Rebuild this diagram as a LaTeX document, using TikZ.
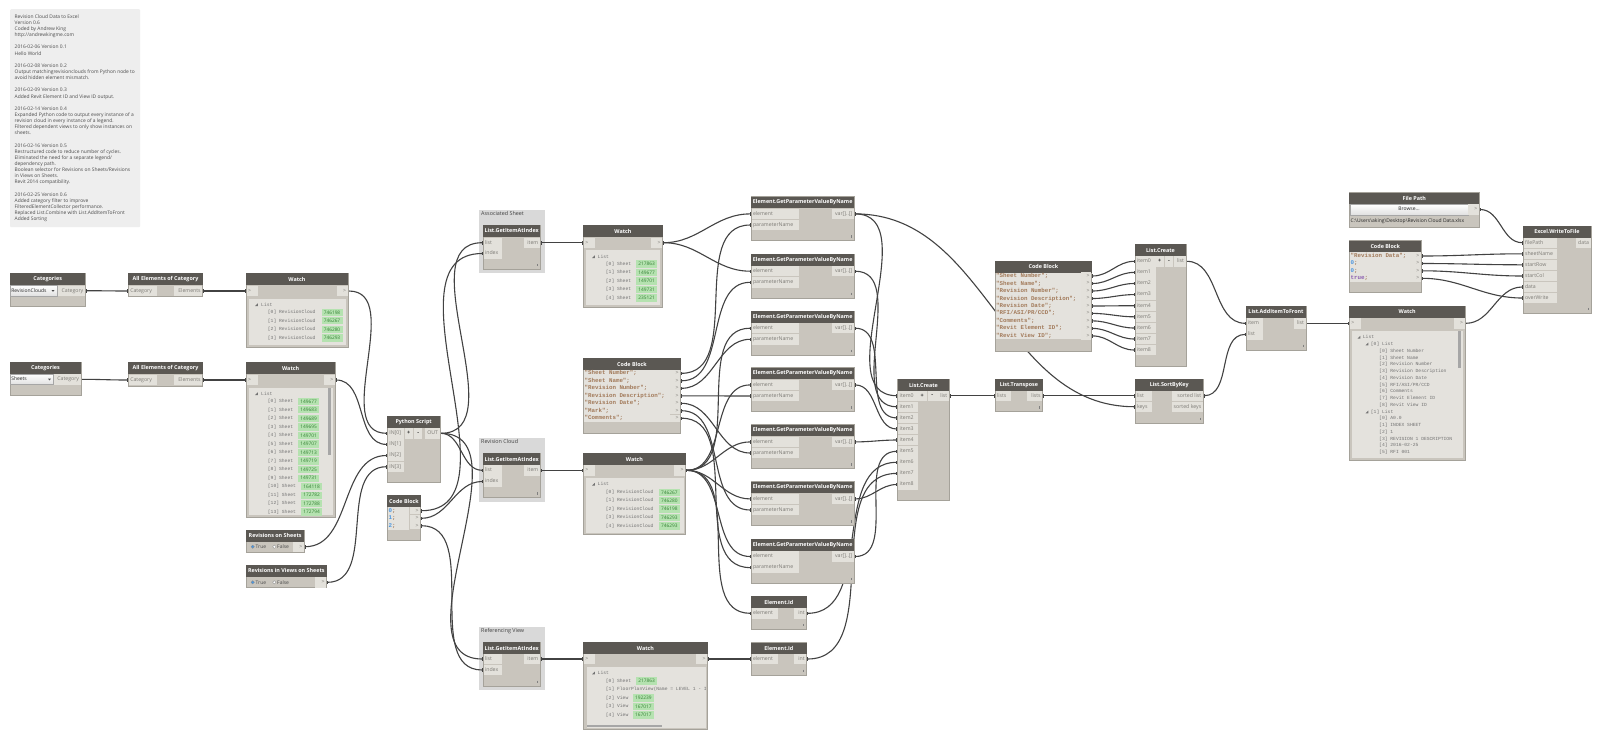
\documentclass[tikz,border=0pt]{standalone}
\usepackage{fontspec}
\setmainfont{Open Sans}
\setmonofont{Liberation Mono}
\usetikzlibrary{arrows.meta}
\usetikzlibrary{backgrounds}

\definecolor{titlegray}{HTML}{5B5853}
\definecolor{bodygray}{HTML}{C9C5BD}
\definecolor{edgegray}{HTML}{A5A29A}
\definecolor{portlight}{HTML}{E3E1DB}
\definecolor{panelgray}{HTML}{E4E2DD}
\definecolor{groupgray}{HTML}{D9D9D9}
\definecolor{notegray}{HTML}{EEEEEE}
\definecolor{valgreen}{HTML}{B5E2B0}
\definecolor{wiregray}{HTML}{424242}
\definecolor{porttext}{HTML}{7D7B76}
\definecolor{codebrown}{HTML}{A27A5A}
\definecolor{codeblue}{HTML}{4A96E0}
\definecolor{codepurple}{HTML}{8C5FB0}

\pgfdeclarelayer{wires}
\pgfsetlayers{background,wires,main}

\tikzset{
	nodebody/.style={fill=bodygray, draw=edgegray, line width=0.7pt, inner sep=0pt, outer sep=0pt},
	nodetitle/.style={fill=titlegray, text=white, inner sep=0pt, outer sep=0pt, minimum height=11.5pt, font=\fontsize{5.4}{6}\selectfont\bfseries},
	inport/.style={anchor=west, fill=portlight, text=porttext, text width=#1pt, align=flush left, inner xsep=1.5pt, inner ysep=0pt, outer sep=0pt, minimum height=10.4pt, text height=3.7pt, text depth=1.1pt, font=\fontsize{5.2}{6}\selectfont},
	outport/.style={inport=#1, anchor=east, align=flush right},
	button/.style={fill=portlight, text=black!80, inner sep=0pt, outer sep=0pt, minimum width=8.5pt, minimum height=10.4pt, font=\fontsize{5.5}{6}\selectfont\bfseries},
	panel/.style={fill=panelgray, inner sep=0pt, outer sep=0pt},
	group/.style={fill=groupgray, inner sep=0pt, outer sep=0pt},
	grouplabel/.style={anchor=west, inner sep=0pt, text=black!75, font=\fontsize{5.4}{6}\selectfont},
	rowtext/.style={anchor=west, inner sep=0pt, text=black!55, font=\fontsize{4.67}{5}\selectfont\ttfamily},
	valbox/.style={anchor=east, fill=valgreen, text=black!50!green!60!gray, inner sep=0pt, minimum width=21pt, minimum height=7.2pt, font=\fontsize{4.8}{5}\selectfont},
	codetext/.style={anchor=west, inner sep=0pt, text=codebrown, font=\fontsize{5.8}{6}\selectfont\ttfamily\bfseries},
	dropdown/.style={anchor=west, top color=white, bottom color=black!12, draw=black!35, line width=0.3pt, text=black!85, text width=#1pt, align=flush left, inner xsep=1pt, inner ysep=0pt, outer sep=0pt, minimum height=10.6pt, text height=3.7pt, text depth=1.1pt, font=\fontsize{5}{6}\selectfont},
	radio/.style={circle, draw=black!45, line width=0.3pt, fill=white, inner sep=0pt, minimum size=3.4pt},
	radioon/.style={radio, fill=codeblue},
	radiotext/.style={anchor=west, inner sep=0pt, text=black!70, font=\fontsize{5}{6}\selectfont},
	lacing/.style={black!50, line width=0.5pt},
	treemark/.style={fill=black!55},
	wire/.style={draw=wiregray, line width=1.1pt, {Square[length=1.8pt,width=3.4pt]}-{Square[length=1.8pt,width=3.4pt]}, every to/.style={out=0,in=180}},
}

\newcommand{\blocknode}[6]{\node (#1) at (#2,#3) [anchor=north west, minimum width={(#4-#2)*1pt}, minimum height={(#5-#3)*1pt}, #6] {};}
\newcommand{\dynnode}[6]{\blocknode{#1}{#2}{#3}{#4}{#5}{nodebody}\node (#1-title) at (#2,#3) [nodetitle, anchor=north west, minimum width={(#4-#2)*1pt}] {#6};}
\newcommand{\lacemark}[1]{\draw[lacing] ([shift={(-3,-5.5)}]#1.south east) -- +(0,2.5);}
\newcommand{\treetip}[2]{\fill[treemark] (#1,#2+1.4) -- ++(2.8,0) -- ++(0,-2.8) -- cycle;}

\begin{document}
\begin{tikzpicture}[x=1pt, y=-1pt]

	\useasboundingbox (0,0) rectangle (1600,740);
	\begin{pgfonlayer}{background}
		\fill[white] (0,0) rectangle (1600,740);
	\end{pgfonlayer}

	% Notes
	\node (notes) at (10,9) [anchor=north west, fill=notegray, rounded corners=1pt, inner xsep=4.5pt, inner ysep=0pt, minimum width=130pt, minimum height=218pt, text width=121pt, align=flush left, text=black!70, font=\fontsize{4.9}{6.13}\selectfont] {Revision Cloud Data to Excel\\
		Version 0.6\\
		Coded by Andrew King\\
		http://andrewkingme.com\\[6.13pt]
		2016-02-06 Version 0.1\\
		Hello World\\[6.13pt]
		2016-02-08 Version 0.2\\
		Output matchingrevisionclouds from Python node to\\
		avoid hidden element mismatch.\\[6.13pt]
		2016-02-09 Version 0.3\\
		Added Revit Element ID and View ID output.\\[6.13pt]
		2016-02-14 Version 0.4\\
		Expanded Python code to output every instance of a\\
		revision cloud in every instance of a legend.\\
		Filtered dependent views to only show instances on\\
		sheets.\\[6.13pt]
		2016-02-16 Version 0.5\\
		Restructured code to reduce number of cycles.\\
		Eliminated the need for a separate legend/\\
		dependency path.\\
		Boolean selector for Revisions on Sheets/Revisions\\
		in Views on Sheets.\\
		Revit 2014 compatibility.\\[6.13pt]
		2016-02-25 Version 0.6\\
		Added category filter to improve\\
		FilteredElementCollector performance.\\
		Replaced List.Combine with List.AddItemToFront\\
		Added Sorting};

	% Categories
	\dynnode{catclouds}{10}{273.3}{85.3}{306.7}{Categories}
	\node (catclouds-pick) at (10.3,290.7) [dropdown=44.5] {RevisionClouds};
	\fill[black!70] (51.5,290) -- ++(3,0) -- ++(-1.5,1.8) -- cycle;
	\node (catclouds-out) at (84.8,290.7) [outport=24] {Category};
	\dynnode{catsheets}{10}{362.3}{81}{395.7}{Categories}
	\node (catsheets-pick) at (10.3,379.3) [dropdown=41] {Sheets};
	\fill[black!70] (48,378.6) -- ++(3,0) -- ++(-1.5,1.8) -- cycle;
	\node (catsheets-out) at (80.5,379.3) [outport=24] {Category};

	% All Elements of Category
	\dynnode{allclouds}{128.3}{273.3}{202.7}{296.5}{All Elements of Category}
	\node (allclouds-in) at (128.8,291) [inport=25] {Category};
	\node (allclouds-out) at (202.2,291) [outport=25] {Elements};
	\dynnode{allsheets}{128.3}{362.3}{202.7}{386}{All Elements of Category}
	\node (allsheets-in) at (128.8,380) [inport=25] {Category};
	\node (allsheets-out) at (202.2,380) [outport=25] {Elements};

	% Watch of the revision clouds
	\dynnode{watchclouds}{246}{273.3}{348}{347.3}{Watch}
	\node (watchclouds-in) at (246.5,291) [inport=8] {>};
	\node (watchclouds-out) at (347.5,291) [outport=8] {>};
	\blocknode{watchclouds-panel}{249.3}{299.3}{346}{345}{panel}
	\treetip{255}{304.7}
	\node (watchclouds-list) at (261,304.7) [rowtext] {List};
	\foreach \i/\yy/\val in {0/312.3/746198,1/320.8/746267,2/329.3/746280,3/338/746293} {
		\node (watchclouds-row\i) at (267.7,\yy) [rowtext] {[\i] RevisionCloud};
		\node (watchclouds-val\i) at (342.7,\yy) [valbox] {\val};
	}

	% Watch of the sheets
	\dynnode{watchsheets}{246}{362.3}{335.3}{517.3}{Watch}
	\node (watchsheets-in) at (246.5,380) [inport=8] {>};
	\node (watchsheets-out) at (334.8,380) [outport=8] {>};
	\blocknode{watchsheets-panel}{249.3}{388}{333}{515}{panel}
	\blocknode{watchsheets-bar}{328}{388}{330.7}{455}{fill=black!35, inner sep=0pt, outer sep=0pt}
	\treetip{255}{393.7}
	\node (watchsheets-list) at (261,393.7) [rowtext] {List};
	\foreach \i/\yy/\val in {0/401.3/149677,1/409.8/149683,2/418.4/149689,3/426.9/149695,4/435.4/149701,5/444/149707,6/452.5/149713,7/461/149719,8/469.5/149725,9/478.1/149731} {
		\node (watchsheets-row\i) at (267.7,\yy) [rowtext] {[\i] Sheet};
		\node (watchsheets-val\i) at (319.3,\yy) [valbox] {\val};
	}
	\foreach \i/\yy/\val in {10/486.6/164118,11/495.2/172782,12/503.7/172788,13/512/172794} {
		\node (watchsheets-row\i) at (267.7,\yy) [rowtext] {[\i] Sheet};
		\node (watchsheets-val\i) at (322.3,\yy) [valbox] {\val};
	}

	% Boolean selectors
	\dynnode{revsheets}{246}{530}{304.3}{552}{Revisions on Sheets}
	\node (revsheets-true) at (252.7,546.7) [radioon] {};
	\node (revsheets-truetext) at (255.5,546.7) [radiotext] {True};
	\node (revsheets-false) at (274.3,546.7) [radio] {};
	\node (revsheets-falsetext) at (277,546.7) [radiotext] {False};
	\node (revsheets-out) at (303.8,546.7) [outport=8] {>};
	\dynnode{revviews}{246}{565}{326.7}{587.7}{Revisions in Views on Sheets}
	\node (revviews-true) at (252.7,582.3) [radioon] {};
	\node (revviews-truetext) at (255.5,582.3) [radiotext] {True};
	\node (revviews-false) at (274.3,582.3) [radio] {};
	\node (revviews-falsetext) at (277,582.3) [radiotext] {False};
	\node (revviews-out) at (326.2,582.3) [outport=8] {>};

	% Python Script
	\dynnode{python}{387.3}{416}{440}{482.7}{Python Script}
	\node (python-in0) at (387.8,433.3) [inport=13] {IN[0]};
	\node (python-in1) at (387.8,444.4) [inport=13] {IN[1]};
	\node (python-in2) at (387.8,455.5) [inport=13] {IN[2]};
	\node (python-in3) at (387.8,466.7) [inport=13] {IN[3]};
	\node (python-plus) at (408.8,433.3) [button] {+};
	\node (python-minus) at (418.2,433.3) [button] {-};
	\node (python-out) at (439.5,433.3) [outport=12] {OUT};

	% Code Block of the indices
	\dynnode{indices}{387.3}{495.3}{420.7}{540}{Code Block}
	\blocknode{indices-panel}{387.8}{506.5}{409}{530}{panel}
	\foreach \i/\yy/\txt in {0/510.7/0,1/518.3/1,2/525.7/2} {
		\node (indices-line\i) at (388.5,\yy) [codetext] {\textcolor{codeblue}{\txt};};
		\node (indices-out\i) at (420.2,\yy) [outport=7.5, minimum height=7.4pt] {>};
	}

	% Groups
	\begin{pgfonlayer}{background}
		\blocknode{groupsheet}{479.3}{210}{545}{273.3}{group}
		\blocknode{groupcloud}{479.3}{438.3}{545}{501.7}{group}
		\blocknode{groupview}{479.3}{627.3}{545}{690}{group}
	\end{pgfonlayer}
	\node (groupsheet-label) at (481,213.6) [grouplabel] {Associated Sheet};
	\node (groupcloud-label) at (481,441.8) [grouplabel] {Revision Cloud};
	\node (groupview-label) at (481,630.8) [grouplabel] {Referencing View};

	% List.GetItemAtIndex
	\dynnode{getsheet}{483}{225}{540.3}{269.3}{List.GetItemAtIndex}
	\node (getsheet-list) at (483.5,242.7) [inport=15] {list};
	\node (getsheet-index) at (483.5,253.5) [inport=15] {index};
	\node (getsheet-out) at (539.8,242.7) [outport=13] {item};
	\lacemark{getsheet}
	\dynnode{getcloud}{483}{453.3}{540.3}{497.7}{List.GetItemAtIndex}
	\node (getcloud-list) at (483.5,470.3) [inport=15] {list};
	\node (getcloud-index) at (483.5,481.5) [inport=15] {index};
	\node (getcloud-out) at (539.8,470.3) [outport=13] {item};
	\lacemark{getcloud}
	\dynnode{getview}{483}{642.3}{540.3}{686}{List.GetItemAtIndex}
	\node (getview-list) at (483.5,659) [inport=15] {list};
	\node (getview-index) at (483.5,670) [inport=15] {index};
	\node (getview-out) at (539.8,659) [outport=13] {item};
	\lacemark{getview}

	% Watch of the associated sheets
	\dynnode{watchsheet}{583.3}{225.3}{662.7}{307.3}{Watch}
	\node (watchsheet-in) at (583.8,242.7) [inport=8] {>};
	\node (watchsheet-out) at (662.2,242.7) [outport=8] {>};
	\blocknode{watchsheet-panel}{586.3}{250}{660.3}{305}{panel}
	\treetip{592}{256.7}
	\node (watchsheet-list) at (597.5,256.7) [rowtext] {List};
	\foreach \i/\yy/\val in {0/264/217863,1/272.3/149677,2/281/149701,3/289.3/149731,4/298/235121} {
		\node (watchsheet-row\i) at (605.7,\yy) [rowtext] {[\i] Sheet};
		\node (watchsheet-val\i) at (657.3,\yy) [valbox] {\val};
	}

	% Code Block of the parameters
	\dynnode{params}{583.3}{358.3}{680.7}{433.3}{Code Block}
	\blocknode{params-panel}{583.8}{369.5}{669.5}{421.7}{panel}
	\foreach \i/\yy/\txt in {0/373.3/{"Sheet Number";},1/380.8/{"Sheet Name";},2/388.3/{"Revision Number";},3/395.8/{"Revision Description";},4/403.3/{"Revision Date";},5/410.7/{"Mark";},6/418.2/{"Comments";}} {
		\node (params-line\i) at (584.5,\yy) [codetext] {\txt};
		\node (params-out\i) at (680.2,\yy) [outport=7.5, minimum height=7.4pt] {>};
	}

	% Watch of the revision clouds by index
	\dynnode{watchcloud}{583.3}{453.3}{685.7}{534.7}{Watch}
	\node (watchcloud-in) at (583.8,470.3) [inport=8] {>};
	\node (watchcloud-out) at (685.2,470.3) [outport=8] {>};
	\blocknode{watchcloud-panel}{586.3}{478}{683.5}{532.5}{panel}
	\treetip{592}{484.3}
	\node (watchcloud-list) at (597.5,484.3) [rowtext] {List};
	\foreach \i/\yy/\val in {0/492.3/746267,1/500.7/746280,2/509/746198,3/517.7/746293,4/526/746293} {
		\node (watchcloud-row\i) at (605.7,\yy) [rowtext] {[\i] RevisionCloud};
		\node (watchcloud-val\i) at (680,\yy) [valbox] {\val};
	}

	% Watch of the referencing views
	\dynnode{watchview}{583.3}{642.3}{707.7}{729.3}{Watch}
	\node (watchview-in) at (583.8,659) [inport=8] {>};
	\node (watchview-out) at (707.2,659) [outport=8] {>};
	\blocknode{watchview-panel}{586.5}{667}{705.5}{728}{panel}
	\treetip{592}{673}
	\node (watchview-list) at (597.5,673) [rowtext] {List};
	\node (watchview-row0) at (605.7,681) [rowtext] {[0] Sheet};
	\node (watchview-val0) at (657.3,681) [valbox] {217863};
	\node (watchview-row1) at (605.7,689.3) [rowtext] {[1] FloorPlanView(Name = LEVEL 1 - I};
	\foreach \i/\yy/\val in {2/698/192239,3/706.3/167017,4/715/167017} {
		\node (watchview-row\i) at (605.7,\yy) [rowtext] {[\i] View};
		\node (watchview-val\i) at (654,\yy) [valbox] {\val};
	}
	\blocknode{watchview-bar}{586.7}{724.5}{662}{726.5}{fill=black!35, inner sep=0pt, outer sep=0pt}

	% Element.GetParameterValueByName
	\foreach \n/\yy in {1/196.7,2/254,3/311,4/367.7,5/424.7,6/481.7,7/539.3} {
		\pgfmathsetmacro{\ybot}{\yy+44}
		\pgfmathsetmacro{\yone}{\yy+17.2}
		\pgfmathsetmacro{\ytwo}{\yy+28.3}
		\dynnode{getpar\n}{751}{\yy}{854.3}{\ybot}{Element.GetParameterValueByName}
		\node (getpar\n-element) at (751.5,\yone) [inport=44] {element};
		\node (getpar\n-name) at (751.5,\ytwo) [inport=44] {parameterName};
		\node (getpar\n-out) at (853.8,\yone) [outport=19] {var[]..[]};
		\lacemark{getpar\n}
	}

	% Element.Id
	\dynnode{idcloud}{751}{596.3}{806.7}{629.3}{Element.Id}
	\node (idcloud-element) at (751.5,613.3) [inport=23] {element};
	\node (idcloud-out) at (806.2,613.3) [outport=9] {int};
	\lacemark{idcloud}
	\dynnode{idview}{751}{642.7}{806.7}{675}{Element.Id}
	\node (idview-element) at (751.5,659) [inport=23] {element};
	\node (idview-out) at (806.2,659) [outport=9] {int};
	\lacemark{idview}

	% List.Create of the values
	\dynnode{values}{897.7}{379.3}{949.3}{500.3}{List.Create}
	\foreach \i/\yy in {0/395.7,1/406.8,2/417.9,3/429,4/440,5/451.3,6/462.3,7/473.4,8/484.5} {
		\node (values-item\i) at (898.2,\yy) [inport=17] {item\i};
	}
	\node (values-plus) at (922.3,395.7) [button] {+};
	\node (values-minus) at (932.3,395.7) [button] {-};
	\node (values-out) at (948.8,395.7) [outport=8.5] {list};

	% List.Transpose
	\dynnode{transpose}{995}{379}{1042.7}{411.7}{List.Transpose}
	\node (transpose-in) at (995.5,395.7) [inport=12] {lists};
	\node (transpose-out) at (1042.2,395.7) [outport=12] {lists};
	\lacemark{transpose}

	% Code Block of the headers
	\dynnode{headers}{995}{261}{1091.7}{351.7}{Code Block}
	\blocknode{headers-panel}{995.5}{272.5}{1080.5}{339}{panel}
	\foreach \i/\yy/\txt in {0/276/{"Sheet Number";},1/283.5/{"Sheet Name";},2/291/{"Revision Number";},3/298.5/{"Revision Description";},4/306/{"Revision Date";},5/313.4/{"RFI/ASI/PR/CCD";},6/320.9/{"Comments";},7/328.4/{"Revit Element ID";},8/335.9/{"Revit View ID";}} {
		\node (headers-line\i) at (996,\yy) [codetext] {\txt};
		\node (headers-out\i) at (1091.2,\yy) [outport=7.5, minimum height=7.4pt] {>};
	}

	% List.Create of the headers
	\dynnode{titles}{1135}{244.3}{1186}{366}{List.Create}
	\foreach \i/\yy in {0/261.3,1/272.4,2/283.5,3/294.6,4/305.7,5/316.8,6/328,7/339,8/350} {
		\node (titles-item\i) at (1135.5,\yy) [inport=17] {item\i};
	}
	\node (titles-plus) at (1159.6,261.3) [button] {+};
	\node (titles-minus) at (1169,261.3) [button] {-};
	\node (titles-out) at (1185.5,261.3) [outport=8.5] {list};

	% List.SortByKey
	\dynnode{sortkey}{1135}{379}{1203.3}{423}{List.SortByKey}
	\node (sortkey-list) at (1135.5,395.7) [inport=13] {list};
	\node (sortkey-keys) at (1135.5,406.7) [inport=13] {keys};
	\node (sortkey-out) at (1202.8,395.7) [outport=28] {sorted list};
	\node (sortkey-outkeys) at (1202.8,406.7) [outport=28] {sorted keys};
	\lacemark{sortkey}

	% List.AddItemToFront
	\dynnode{addfront}{1246}{306}{1306}{350}{List.AddItemToFront}
	\node (addfront-item) at (1246.5,323.3) [inport=13] {item};
	\node (addfront-list) at (1246.5,334.4) [inport=13] {list};
	\node (addfront-out) at (1305.5,323.3) [outport=9] {list};
	\lacemark{addfront}

	% Watch of the table
	\dynnode{watchdata}{1349.3}{306}{1465}{460}{Watch}
	\node (watchdata-in) at (1349.8,323.3) [inport=8] {>};
	\node (watchdata-out) at (1464.5,323.3) [outport=8] {>};
	\blocknode{watchdata-panel}{1352}{331}{1463}{458}{panel}
	\blocknode{watchdata-bar}{1458.3}{331}{1460.7}{368}{fill=black!35, inner sep=0pt, outer sep=0pt}
	\treetip{1357.5}{337.3}
	\node (watchdata-list) at (1362.7,337.3) [rowtext] {List};
	\treetip{1365.5}{344}
	\node (watchdata-first) at (1370.7,344) [rowtext] {[0] List};
	\foreach \i/\yy/\txt in {0/351/Sheet Number,1/357.8/Sheet Name,2/364.5/Revision Number,3/371.3/Revision Description,4/378.1/Revision Date,5/385/{RFI/ASI/PR/CCD},6/391.7/Comments,7/398.4/Revit Element ID,8/405/Revit View ID} {
		\node (watchdata-a\i) at (1379,\yy) [rowtext] {[\i] \txt};
	}
	\treetip{1365.5}{412}
	\node (watchdata-second) at (1370.7,412) [rowtext] {[1] List};
	\foreach \i/\yy/\txt in {0/418.7/A0.0,1/425.4/INDEX SHEET,2/432.3/1,3/439/REVISION 1 DESCRIPTION,4/445.7/2016-02-25,5/452.7/RFI 001} {
		\node (watchdata-b\i) at (1379,\yy) [rowtext] {[\i] \txt};
	}

	% File Path
	\dynnode{filepath}{1349.3}{192.7}{1479.3}{227.7}{File Path}
	\node (filepath-browse) at (1350,209.5) [dropdown=116, align=flush center, text=black!85] {Browse...};
	\node (filepath-out) at (1478.8,209.5) [outport=7.5] {>};
	\node (filepath-text) at (1350.5,221) [radiotext, text=black!85] {C:\textbackslash Users\textbackslash aking\textbackslash Desktop\textbackslash Revision Cloud Data.xlsx};

	% Code Block of the options
	\dynnode{options}{1349.3}{240.7}{1421.3}{292.7}{Code Block}
	\blocknode{options-panel}{1349.8}{252}{1410.5}{281.5}{panel}
	\node (options-line0) at (1350.5,256) [codetext] {"Revision Data";};
	\node (options-line1) at (1350.5,263.5) [codetext] {\textcolor{codeblue}{0};};
	\node (options-line2) at (1350.5,270.8) [codetext] {\textcolor{codeblue}{0};};
	\node (options-line3) at (1350.5,278.3) [codetext] {\textcolor{codepurple}{true};};
	\foreach \i/\yy in {0/256,1/263.5,2/270.8,3/278.3} {
		\node (options-out\i) at (1420.8,\yy) [outport=7.5, minimum height=7.4pt] {>};
	}

	% Excel.WriteToFile
	\dynnode{excel}{1523}{226}{1591}{313.3}{Excel.WriteToFile}
	\node (excel-path) at (1523.5,242.7) [inport=30] {filePath};
	\node (excel-sheet) at (1523.5,253.8) [inport=30] {sheetName};
	\node (excel-row) at (1523.5,264.8) [inport=30] {startRow};
	\node (excel-col) at (1523.5,276) [inport=30] {startCol};
	\node (excel-data) at (1523.5,287) [inport=30] {data};
	\node (excel-over) at (1523.5,298) [inport=30] {overWrite};
	\node (excel-out) at (1590.5,242.7) [outport=12] {data};
	\lacemark{excel}

	% Connectors
	\begin{pgfonlayer}{wires}
		\draw[wire] (catclouds-out.east) to (allclouds-in.west);
		\draw[wire] (catsheets-out.east) to (allsheets-in.west);
		\draw[wire] (allclouds-out.east) to (watchclouds-in.west);
		\draw[wire] (allsheets-out.east) to (watchsheets-in.west);
		\draw[wire] (watchclouds-out.east) to (python-in0.west);
		\draw[wire] (watchsheets-out.east) to (python-in1.west);
		\draw[wire] (revsheets-out.east) to (python-in2.west);
		\draw[wire] (revviews-out.east) to (python-in3.west);
		\draw[wire] (python-out.east) to (getsheet-list.west);
		\draw[wire] (python-out.east) to (getcloud-list.west);
		\draw[wire] (python-out.east) to (getview-list.west);
		\draw[wire] (indices-out0.east) to (getsheet-index.west);
		\draw[wire] (indices-out1.east) to (getcloud-index.west);
		\draw[wire] (indices-out2.east) to (getview-index.west);
		\draw[wire] (getsheet-out.east) to (watchsheet-in.west);
		\draw[wire] (getcloud-out.east) to (watchcloud-in.west);
		\draw[wire] (getview-out.east) to (watchview-in.west);
		\draw[wire] (watchsheet-out.east) to (getpar1-element.west);
		\draw[wire] (watchsheet-out.east) to (getpar2-element.west);
		\draw[wire] (params-out0.east) to (getpar1-name.west);
		\draw[wire] (params-out1.east) to (getpar2-name.west);
		\draw[wire] (params-out2.east) to (getpar3-name.west);
		\draw[wire] (params-out3.east) to (getpar4-name.west);
		\draw[wire] (params-out4.east) to (getpar5-name.west);
		\draw[wire] (params-out5.east) to (getpar6-name.west);
		\draw[wire] (params-out6.east) to (getpar7-name.west);
		\draw[wire] (watchcloud-out.east) to (getpar3-element.west);
		\draw[wire] (watchcloud-out.east) to (getpar4-element.west);
		\draw[wire] (watchcloud-out.east) to (getpar5-element.west);
		\draw[wire] (watchcloud-out.east) to (getpar6-element.west);
		\draw[wire] (watchcloud-out.east) to (getpar7-element.west);
		\draw[wire] (watchcloud-out.east) to (idcloud-element.west);
		\draw[wire] (watchview-out.east) to (idview-element.west);
		\draw[wire] (getpar1-out.east) to (values-item0.west);
		\draw[wire] (getpar2-out.east) to (values-item1.west);
		\draw[wire] (getpar3-out.east) to (values-item2.west);
		\draw[wire] (getpar4-out.east) to (values-item3.west);
		\draw[wire] (getpar5-out.east) to (values-item4.west);
		\draw[wire] (getpar7-out.east) to (values-item5.west);
		\draw[wire] (idcloud-out.east) to (values-item6.west);
		\draw[wire] (idview-out.east) to (values-item7.west);
		\draw[wire] (getpar6-out.east) to (values-item8.west);
		\draw[wire] (getpar1-out.east) to (sortkey-keys.west);
		\draw[wire] (values-out.east) to (transpose-in.west);
		\draw[wire] (transpose-out.east) to (sortkey-list.west);
		\foreach \i in {0,...,8} {
			\draw[wire] (headers-out\i.east) to (titles-item\i.west);
		}
		\draw[wire] (titles-out.east) to (addfront-item.west);
		\draw[wire] (sortkey-out.east) to (addfront-list.west);
		\draw[wire] (addfront-out.east) to (watchdata-in.west);
		\draw[wire] (watchdata-out.east) to (excel-data.west);
		\draw[wire] (filepath-out.east) to (excel-path.west);
		\draw[wire] (options-out0.east) to (excel-sheet.west);
		\draw[wire] (options-out1.east) to (excel-row.west);
		\draw[wire] (options-out2.east) to (excel-col.west);
		\draw[wire] (options-out3.east) to (excel-over.west);
	\end{pgfonlayer}

\end{tikzpicture}
\end{document}
